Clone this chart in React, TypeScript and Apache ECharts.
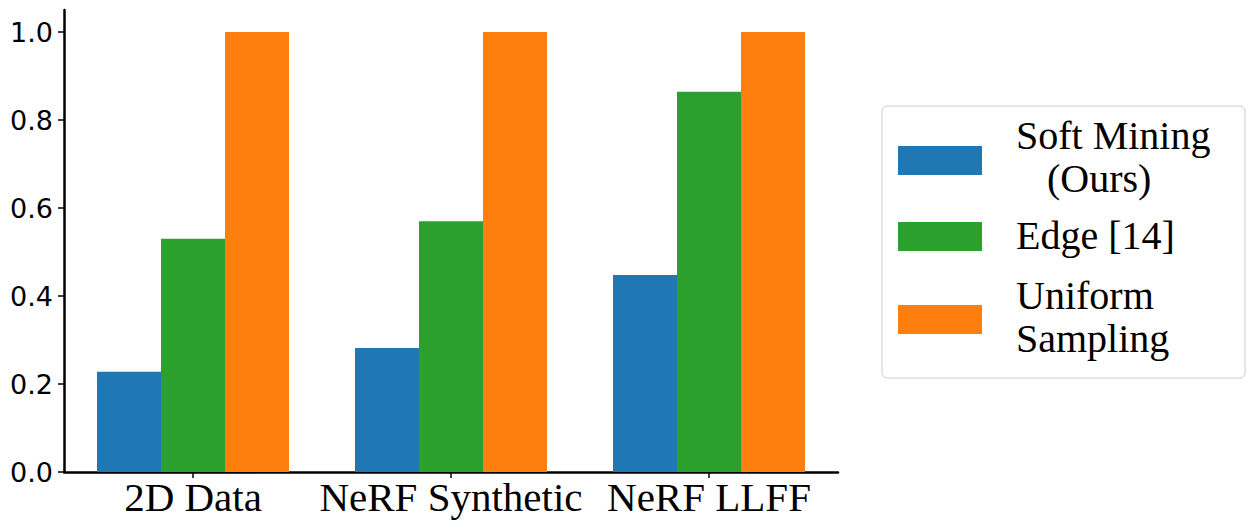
import React, { useEffect, useRef } from "react";
import * as echarts from "echarts";

const categories = ["2D Data", "NeRF Synthetic", "NeRF LLFF"];
const seriesNames = ["Soft Mining (Ours)", "Edge [14]", "Uniform Sampling"];
const softMining = [0.228, 0.282, 0.448];
const edge = [0.53, 0.57, 0.864];
const uniform = [1.0, 1.0, 1.0];
const colors = ["#1f77b4", "#2ca02c", "#ff7f0e"];
const legendLines = [["Soft Mining", "(Ours)"], ["Edge [14]"], ["Uniform", "Sampling"]];

export default function App() {
  const ref = useRef<HTMLDivElement>(null);
  useEffect(() => {
    document.body.style.margin = "0";
    const chart = echarts.init(ref.current!, null, { renderer: "svg" });
    const serif = "'Liberation Serif', 'Times New Roman', serif";
    const sans = "'DejaVu Sans', sans-serif";
    const values = [softMining, edge, uniform];

    const patchY = [146, 222, 305];
    const lineYs = [[135, 178], [235], [295, 338]];
    const lineXs = [[1016, 1047], [1016], [1016, 1016]];
    const graphics: any[] = [
      {
        type: "rect",
        shape: { x: 882, y: 106, width: 363, height: 272, r: 5 },
        style: { fill: "rgba(255,255,255,0.8)", stroke: "#cccccc", lineWidth: 1 },
        z: 10,
      },
    ];
    legendLines.forEach((lines, i) => {
      graphics.push({
        type: "rect",
        shape: { x: 898, y: patchY[i], width: 84, height: 29 },
        style: { fill: colors[i] },
        z: 11,
      });
      lines.forEach((t, j) => {
        graphics.push({
          type: "text",
          x: lineXs[i][j],
          y: lineYs[i][j],
          style: {
            text: t,
            font: `40px ${serif}`,
            fill: "#000",
            verticalAlign: "middle",
            align: "left",
          },
          z: 11,
        });
      });
    });

    chart.setOption({
      animation: false,
      grid: { left: 64, right: 416, top: 10, bottom: 57, containLabel: false },
      xAxis: {
        type: "category",
        data: categories,
        axisLine: { lineStyle: { color: "#000", width: 2.5 } },
        axisTick: { show: true, alignWithLabel: true, length: 6, lineStyle: { color: "#000", width: 1.5 } },
        axisLabel: { color: "#000", fontFamily: serif, fontSize: 41, margin: 4, interval: 0 },
        splitLine: { show: false },
      },
      yAxis: {
        type: "value",
        min: 0,
        max: 1.05,
        interval: 0.2,
        axisLine: { show: true, lineStyle: { color: "#000", width: 2.5 } },
        axisTick: { show: true, length: 6, lineStyle: { color: "#000", width: 1.5 } },
        axisLabel: {
          color: "#000",
          fontFamily: sans,
          fontSize: 27,
          margin: 11,
          showMaxLabel: false,
          formatter: (v: number) => v.toFixed(1),
        },
        splitLine: { show: false },
      },
      series: seriesNames.map((name, i) => ({
        name,
        type: "bar",
        data: values[i],
        barWidth: 64,
        barGap: "0%",
        itemStyle: { color: colors[i] },
      })),
      graphic: graphics,
    });
    return () => chart.dispose();
  }, []);
  return <div ref={ref} style={{ width: 1254, height: 529 }} />;
}
